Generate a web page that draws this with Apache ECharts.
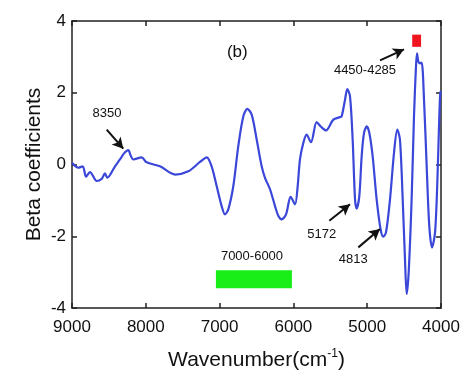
<!DOCTYPE html>
<html><head><meta charset="utf-8">
<script src="https://cdn.jsdelivr.net/npm/echarts@6/dist/echarts.min.js"></script>
<style>html,body{margin:0;padding:0;background:#fff}#c{width:474px;height:382px}</style>
</head><body><div id="c"></div>
<script>
var wavenumbers = [9000,8914,8855,8810,8756,8665,8598,8553,8522,8417,8350,8295,8237,8205,8169,8056,7989,7808,7604,7424,7266,7175,7108,7040,6972,6927,6882,6814,6747,6679,6624,6565,6497,6430,6385,6317,6249,6205,6159,6100,6037,5978,5942,5911,5866,5821,5762,5685,5630,5558,5459,5369,5346,5301,5270,5233,5197,5165,5143,5107,5075,5043,5007,4971,4926,4872,4818,4782,4746,4691,4637,4592,4556,4519,4488,4465,4438,4398,4366,4339,4325,4307,4285,4262,4230,4194,4159,4122,4081,4050,4023,4010,4000];
var betaValues = [0.05,-0.09,-0.05,-0.34,-0.21,-0.46,-0.40,-0.25,-0.37,-0.05,0.14,0.31,0.40,0.25,0.14,0.20,0.06,-0.05,-0.28,-0.19,0.07,0.20,-0.05,-0.60,-1.16,-1.39,-1.25,-0.60,0.51,1.34,1.55,1.39,0.69,-0.05,-0.37,-0.69,-1.16,-1.43,-1.53,-1.39,-0.90,-1.11,-0.60,0.14,0.60,0.83,0.62,1.18,1.06,0.95,1.25,1.32,1.34,1.80,2.10,1.90,0.69,-0.97,-1.23,-0.88,0.23,0.88,1.06,0.88,0.23,-0.97,-1.81,-2.01,-1.90,-0.97,0.32,0.97,0.69,-0.97,-2.64,-3.61,-3.01,-0.97,1.34,2.73,3.10,2.87,2.82,2.84,1.80,-0.05,-1.71,-2.31,-1.90,-0.51,1.34,1.99,2.05];
var xTicks = [9000,8000,7000,6000,5000,4000];
var yTicks = [-4,-2,0,2,4];
// annotations (data coordinates)
var peakLabels = ['8350','4450-4285','5172','4813'];
var labelPos = [[8526,1.41],[5030,2.61],[5617,-1.94],[5188,-2.64]];
var arrowFrom = [[8530,0.97],[4826,2.90],[5513,-1.57],[5120,-2.31]];
var arrowTo = [[8305,0.44],[4501,3.21],[5233,-1.11],[4827,-1.80]];
var greenBand = {x:[7050,6020], y:[-2.95,-3.45], label:'7000-6000', labelPos:[6561,-2.55]};
var redBand = {x:[4390,4270], y:[3.28,3.62]};
var panelLabel = {text:'(b)', pos:[6760,3.13]};

var data = wavenumbers.map(function(w,i){return [w, betaValues[i]];});
var axisColor = '#222';
var chart = echarts.init(document.getElementById('c'));
var textPoints = peakLabels.map(function(t,i){return {coord:labelPos[i], value:t};});
textPoints.push({coord:greenBand.labelPos, value:greenBand.label});
textPoints.push({coord:panelLabel.pos, value:panelLabel.text, label:{fontSize:17}});
chart.setOption({
  animation:false,
  grid:{left:72,right:33,top:21,bottom:74},
  xAxis:[{
    type:'value', inverse:true, min:4000, max:9000, interval:1000, position:'bottom',
    name:'Wavenumber(cm{sup|-1})', nameLocation:'middle', nameGap:40, nameMoveOverlap:false,
    nameTextStyle:{fontFamily:'Liberation Sans',fontSize:21,color:'#111',
      rich:{sup:{fontFamily:'Liberation Sans',fontSize:12,color:'#111',verticalAlign:'top',padding:[0,0,12,0]}}},
    axisLine:{show:true,onZero:false,lineStyle:{color:axisColor,width:1.5}},
    axisTick:{show:true,inside:true,length:5,lineStyle:{color:axisColor,width:1.5}},
    axisLabel:{fontFamily:'Liberation Sans',fontSize:17,color:'#111',margin:11,
      formatter:function(v){return xTicks.indexOf(v)>=0?String(v):'';}},
    splitLine:{show:false}
  },{
    type:'value', inverse:true, min:4000, max:9000, interval:1000, position:'top',
    axisLine:{show:true,onZero:false,lineStyle:{color:axisColor,width:1.5}},
    axisTick:{show:true,inside:true,length:5,lineStyle:{color:axisColor,width:1.5}},
    axisLabel:{show:false}, splitLine:{show:false}
  }],
  yAxis:[{
    type:'value', min:-4, max:4, interval:2, position:'left',
    name:'Beta coefficients', nameLocation:'middle', nameGap:27, nameMoveOverlap:false,
    nameTextStyle:{fontFamily:'Liberation Sans',fontSize:21,color:'#111'},
    axisLine:{show:true,onZero:false,lineStyle:{color:axisColor,width:1.5}},
    axisTick:{show:true,inside:true,length:5,lineStyle:{color:axisColor,width:1.5}},
    axisLabel:{fontFamily:'Liberation Sans',fontSize:17,color:'#111',margin:6,
      formatter:function(v){return yTicks.indexOf(v)>=0?String(v):'';}},
    splitLine:{show:false}
  },{
    type:'value', min:-4, max:4, interval:2, position:'right',
    axisLine:{show:true,onZero:false,lineStyle:{color:axisColor,width:1.5}},
    axisTick:{show:true,inside:true,length:5,lineStyle:{color:axisColor,width:1.5}},
    axisLabel:{show:false}, splitLine:{show:false}
  }],
  series:[{
    type:'line', data:data, smooth:0.3, symbol:'none',
    lineStyle:{color:'#3a47d8',width:2.2},
    markArea:{silent:true,data:[
      [{coord:[greenBand.x[0],greenBand.y[0]],itemStyle:{color:'#19ee19',opacity:1}},{coord:[greenBand.x[1],greenBand.y[1]]}],
      [{coord:[redBand.x[0],redBand.y[0]],itemStyle:{color:'#f0141e',opacity:1}},{coord:[redBand.x[1],redBand.y[1]]}]
    ]},
    markLine:{silent:true,symbol:['none','arrow'],symbolSize:[9,11],
      lineStyle:{color:'#111',width:2,type:'solid'},label:{show:false},
      data:arrowFrom.map(function(f,i){return [{coord:f},{coord:arrowTo[i]}];})},
    markPoint:{silent:true,symbol:'circle',symbolSize:1,itemStyle:{color:'rgba(0,0,0,0)'},
      label:{show:true,position:'inside',fontFamily:'Liberation Sans',fontSize:13,color:'#111',
        formatter:function(p){return p.value;}},
      data:textPoints}
  }]
});
</script></body></html>
